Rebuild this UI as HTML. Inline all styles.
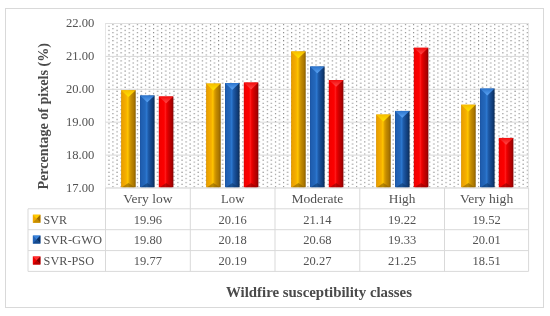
<!DOCTYPE html>
<html lang="en"><head><meta charset="utf-8"><title>Wildfire susceptibility classes</title>
<style>html,body{margin:0;padding:0;background:#fff;}body{width:550px;height:316px;overflow:hidden;}svg{display:block;}text{font-family:"Liberation Serif","DejaVu Serif",serif;}</style>
</head><body>
<svg width="550" height="316" viewBox="0 0 550 316">
<defs>
<pattern id="dots" x="107.900" y="25.500" width="8.124" height="4.05" patternUnits="userSpaceOnUse"><rect x="0.450" y="0.450" width="1.1" height="1.1" fill="#7c7c7c"/><rect x="4.512" y="2.475" width="1.1" height="1.1" fill="#7c7c7c"/></pattern>
<linearGradient id="g0" x1="0" y1="0" x2="1" y2="0"><stop offset="0" stop-color="#d89200"/><stop offset="0.08" stop-color="#eaa000"/><stop offset="0.35" stop-color="#f6b000"/><stop offset="0.47" stop-color="#ffc800"/><stop offset="0.54" stop-color="#e4a600"/><stop offset="0.68" stop-color="#c48c00"/><stop offset="0.88" stop-color="#aa7600"/><stop offset="1" stop-color="#865c00"/></linearGradient>
<linearGradient id="g1" x1="0" y1="0" x2="1" y2="0"><stop offset="0" stop-color="#1a52a0"/><stop offset="0.08" stop-color="#1f5eb0"/><stop offset="0.35" stop-color="#2468bc"/><stop offset="0.47" stop-color="#2e7ad2"/><stop offset="0.54" stop-color="#205fae"/><stop offset="0.68" stop-color="#184e96"/><stop offset="0.88" stop-color="#0f3a74"/><stop offset="1" stop-color="#0a2850"/></linearGradient>
<linearGradient id="g2" x1="0" y1="0" x2="1" y2="0"><stop offset="0" stop-color="#dc0000"/><stop offset="0.08" stop-color="#f40000"/><stop offset="0.35" stop-color="#fc0000"/><stop offset="0.47" stop-color="#ff1a1a"/><stop offset="0.54" stop-color="#ee0000"/><stop offset="0.68" stop-color="#d00000"/><stop offset="0.88" stop-color="#ac0000"/><stop offset="1" stop-color="#800000"/></linearGradient>
<linearGradient id="t0" x1="0" y1="0" x2="0" y2="1"><stop offset="0" stop-color="#f6bc00"/><stop offset="1" stop-color="#ffe400"/></linearGradient>
<linearGradient id="t1" x1="0" y1="0" x2="0" y2="1"><stop offset="0" stop-color="#2c74cc"/><stop offset="1" stop-color="#5ca4f4"/></linearGradient>
<linearGradient id="t2" x1="0" y1="0" x2="0" y2="1"><stop offset="0" stop-color="#f20c0c"/><stop offset="1" stop-color="#ff4848"/></linearGradient>
</defs>
<rect x="0" y="0" width="550" height="316" fill="#fff"/>
<rect x="5.5" y="8.5" width="538" height="299" fill="#fff" stroke="#d9d9d9" stroke-width="1"/>
<rect x="105.5" y="23.5" width="423.1" height="164.5" fill="url(#dots)"/>
<line x1="105.5" y1="188.0" x2="528.6" y2="188.0" stroke="#d9d9d9" stroke-width="1"/>
<line x1="105.5" y1="155.1" x2="528.6" y2="155.1" stroke="#d9d9d9" stroke-width="1"/>
<line x1="105.5" y1="122.2" x2="528.6" y2="122.2" stroke="#d9d9d9" stroke-width="1"/>
<line x1="105.5" y1="89.3" x2="528.6" y2="89.3" stroke="#d9d9d9" stroke-width="1"/>
<line x1="105.5" y1="56.4" x2="528.6" y2="56.4" stroke="#d9d9d9" stroke-width="1"/>
<line x1="105.5" y1="23.5" x2="528.6" y2="23.5" stroke="#d9d9d9" stroke-width="1"/>
<rect x="105.5" y="23.5" width="423.1" height="164.5" fill="none" stroke="#e2e2e2" stroke-width="0.8"/>
<text x="94.4" y="191.7" font-size="13" textLength="28.4" lengthAdjust="spacingAndGlyphs" text-anchor="end" fill="#525252">17.00</text>
<text x="94.4" y="158.8" font-size="13" textLength="28.4" lengthAdjust="spacingAndGlyphs" text-anchor="end" fill="#525252">18.00</text>
<text x="94.4" y="125.9" font-size="13" textLength="28.4" lengthAdjust="spacingAndGlyphs" text-anchor="end" fill="#525252">19.00</text>
<text x="94.4" y="93.0" font-size="13" textLength="28.4" lengthAdjust="spacingAndGlyphs" text-anchor="end" fill="#525252">20.00</text>
<text x="94.4" y="60.1" font-size="13" textLength="28.4" lengthAdjust="spacingAndGlyphs" text-anchor="end" fill="#525252">21.00</text>
<text x="94.4" y="27.2" font-size="13" textLength="28.4" lengthAdjust="spacingAndGlyphs" text-anchor="end" fill="#525252">22.00</text>
<rect x="121.1" y="90.2" width="14.6" height="97.0" fill="url(#g0)"/>
<polygon points="121.1,90.2 135.7,90.2 128.4,97.0" fill="url(#t0)"/>
<polygon points="122.1,187.2 134.7,187.2 128.4,183.0" fill="#8a6000" opacity="0.6"/>
<rect x="140.0" y="95.5" width="14.6" height="91.7" fill="url(#g1)"/>
<polygon points="140.0,95.5 154.6,95.5 147.3,102.3" fill="url(#t1)"/>
<polygon points="141.0,187.2 153.6,187.2 147.3,183.0" fill="#0e3a70" opacity="0.6"/>
<rect x="158.8" y="96.5" width="14.6" height="90.7" fill="url(#g2)"/>
<polygon points="158.8,96.5 173.4,96.5 166.1,103.3" fill="url(#t2)"/>
<polygon points="159.8,187.2 172.4,187.2 166.1,183.0" fill="#900000" opacity="0.6"/>
<rect x="206.1" y="83.6" width="14.6" height="103.6" fill="url(#g0)"/>
<polygon points="206.1,83.6 220.7,83.6 213.4,90.4" fill="url(#t0)"/>
<polygon points="207.1,187.2 219.7,187.2 213.4,183.0" fill="#8a6000" opacity="0.6"/>
<rect x="225.0" y="83.0" width="14.6" height="104.2" fill="url(#g1)"/>
<polygon points="225.0,83.0 239.6,83.0 232.3,89.8" fill="url(#t1)"/>
<polygon points="226.0,187.2 238.6,187.2 232.3,183.0" fill="#0e3a70" opacity="0.6"/>
<rect x="243.8" y="82.6" width="14.6" height="104.6" fill="url(#g2)"/>
<polygon points="243.8,82.6 258.4,82.6 251.1,89.4" fill="url(#t2)"/>
<polygon points="244.8,187.2 257.4,187.2 251.1,183.0" fill="#900000" opacity="0.6"/>
<rect x="291.1" y="51.4" width="14.6" height="135.8" fill="url(#g0)"/>
<polygon points="291.1,51.4 305.7,51.4 298.4,58.2" fill="url(#t0)"/>
<polygon points="292.1,187.2 304.7,187.2 298.4,183.0" fill="#8a6000" opacity="0.6"/>
<rect x="310.0" y="66.5" width="14.6" height="120.7" fill="url(#g1)"/>
<polygon points="310.0,66.5 324.6,66.5 317.3,73.3" fill="url(#t1)"/>
<polygon points="311.0,187.2 323.6,187.2 317.3,183.0" fill="#0e3a70" opacity="0.6"/>
<rect x="328.8" y="80.0" width="14.6" height="107.2" fill="url(#g2)"/>
<polygon points="328.8,80.0 343.4,80.0 336.1,86.8" fill="url(#t2)"/>
<polygon points="329.8,187.2 342.4,187.2 336.1,183.0" fill="#900000" opacity="0.6"/>
<rect x="376.1" y="114.6" width="14.6" height="72.6" fill="url(#g0)"/>
<polygon points="376.1,114.6 390.7,114.6 383.4,121.4" fill="url(#t0)"/>
<polygon points="377.1,187.2 389.7,187.2 383.4,183.0" fill="#8a6000" opacity="0.6"/>
<rect x="395.0" y="110.9" width="14.6" height="76.3" fill="url(#g1)"/>
<polygon points="395.0,110.9 409.6,110.9 402.3,117.7" fill="url(#t1)"/>
<polygon points="396.0,187.2 408.6,187.2 402.3,183.0" fill="#0e3a70" opacity="0.6"/>
<rect x="413.8" y="47.8" width="14.6" height="139.4" fill="url(#g2)"/>
<polygon points="413.8,47.8 428.4,47.8 421.1,54.6" fill="url(#t2)"/>
<polygon points="414.8,187.2 427.4,187.2 421.1,183.0" fill="#900000" opacity="0.6"/>
<rect x="461.1" y="104.7" width="14.6" height="82.5" fill="url(#g0)"/>
<polygon points="461.1,104.7 475.7,104.7 468.4,111.5" fill="url(#t0)"/>
<polygon points="462.1,187.2 474.7,187.2 468.4,183.0" fill="#8a6000" opacity="0.6"/>
<rect x="480.0" y="88.6" width="14.6" height="98.6" fill="url(#g1)"/>
<polygon points="480.0,88.6 494.6,88.6 487.3,95.4" fill="url(#t1)"/>
<polygon points="481.0,187.2 493.6,187.2 487.3,183.0" fill="#0e3a70" opacity="0.6"/>
<rect x="498.8" y="137.9" width="14.6" height="49.3" fill="url(#g2)"/>
<polygon points="498.8,137.9 513.4,137.9 506.1,144.7" fill="url(#t2)"/>
<polygon points="499.8,187.2 512.4,187.2 506.1,183.0" fill="#900000" opacity="0.6"/>
<line x1="28.0" y1="208.8" x2="528.6" y2="208.8" stroke="#d9d9d9" stroke-width="1"/>
<line x1="28.0" y1="229.7" x2="528.6" y2="229.7" stroke="#d9d9d9" stroke-width="1"/>
<line x1="28.0" y1="250.6" x2="528.6" y2="250.6" stroke="#d9d9d9" stroke-width="1"/>
<line x1="28.0" y1="271.4" x2="528.6" y2="271.4" stroke="#d9d9d9" stroke-width="1"/>
<line x1="28.0" y1="208.8" x2="28.0" y2="271.4" stroke="#d9d9d9" stroke-width="1"/>
<line x1="105.5" y1="188.0" x2="105.5" y2="271.4" stroke="#d9d9d9" stroke-width="1"/>
<line x1="190.3" y1="188.0" x2="190.3" y2="271.4" stroke="#d9d9d9" stroke-width="1"/>
<line x1="275.0" y1="188.0" x2="275.0" y2="271.4" stroke="#d9d9d9" stroke-width="1"/>
<line x1="359.8" y1="188.0" x2="359.8" y2="271.4" stroke="#d9d9d9" stroke-width="1"/>
<line x1="444.5" y1="188.0" x2="444.5" y2="271.4" stroke="#d9d9d9" stroke-width="1"/>
<line x1="528.6" y1="188.0" x2="528.6" y2="271.4" stroke="#d9d9d9" stroke-width="1"/>
<text x="147.9" y="202.7" font-size="13" textLength="49.2" lengthAdjust="spacingAndGlyphs" text-anchor="middle" fill="#525252">Very low</text>
<text x="232.7" y="202.7" font-size="13" textLength="23.4" lengthAdjust="spacingAndGlyphs" text-anchor="middle" fill="#525252">Low</text>
<text x="317.4" y="202.7" font-size="13" textLength="52" lengthAdjust="spacingAndGlyphs" text-anchor="middle" fill="#525252">Moderate</text>
<text x="402.1" y="202.7" font-size="13" textLength="26.6" lengthAdjust="spacingAndGlyphs" text-anchor="middle" fill="#525252">High</text>
<text x="486.6" y="202.7" font-size="13" textLength="53.2" lengthAdjust="spacingAndGlyphs" text-anchor="middle" fill="#525252">Very high</text>
<rect x="32.8" y="214.7" width="7.6" height="8.0" fill="#f0a800"/>
<polygon points="32.8,214.7 40.4,214.7 36.599999999999994,218.7" fill="#ffcc00"/>
<polygon points="40.4,214.7 40.4,222.7 36.599999999999994,218.7" fill="#9c6c00"/>
<polygon points="32.8,222.7 40.4,222.7 36.599999999999994,218.7" fill="#c48c00"/>
<text x="43.6" y="223.5" font-size="13" textLength="23.4" lengthAdjust="spacingAndGlyphs" fill="#525252">SVR</text>
<text x="147.9" y="223.5" font-size="13" textLength="28.2" lengthAdjust="spacingAndGlyphs" text-anchor="middle" fill="#525252">19.96</text>
<text x="232.7" y="223.5" font-size="13" textLength="28.2" lengthAdjust="spacingAndGlyphs" text-anchor="middle" fill="#525252">20.16</text>
<text x="317.4" y="223.5" font-size="13" textLength="28.2" lengthAdjust="spacingAndGlyphs" text-anchor="middle" fill="#525252">21.14</text>
<text x="402.1" y="223.5" font-size="13" textLength="28.2" lengthAdjust="spacingAndGlyphs" text-anchor="middle" fill="#525252">19.22</text>
<text x="486.6" y="223.5" font-size="13" textLength="28.2" lengthAdjust="spacingAndGlyphs" text-anchor="middle" fill="#525252">19.52</text>
<rect x="32.8" y="235.6" width="7.6" height="8.0" fill="#2464b8"/>
<polygon points="32.8,235.6 40.4,235.6 36.599999999999994,239.6" fill="#3a84dc"/>
<polygon points="40.4,235.6 40.4,243.6 36.599999999999994,239.6" fill="#0c3264"/>
<polygon points="32.8,243.6 40.4,243.6 36.599999999999994,239.6" fill="#164a8c"/>
<text x="43.6" y="244.4" font-size="13" textLength="58.4" lengthAdjust="spacingAndGlyphs" fill="#525252">SVR-GWO</text>
<text x="147.9" y="244.4" font-size="13" textLength="28.2" lengthAdjust="spacingAndGlyphs" text-anchor="middle" fill="#525252">19.80</text>
<text x="232.7" y="244.4" font-size="13" textLength="28.2" lengthAdjust="spacingAndGlyphs" text-anchor="middle" fill="#525252">20.18</text>
<text x="317.4" y="244.4" font-size="13" textLength="28.2" lengthAdjust="spacingAndGlyphs" text-anchor="middle" fill="#525252">20.68</text>
<text x="402.1" y="244.4" font-size="13" textLength="28.2" lengthAdjust="spacingAndGlyphs" text-anchor="middle" fill="#525252">19.33</text>
<text x="486.6" y="244.4" font-size="13" textLength="28.2" lengthAdjust="spacingAndGlyphs" text-anchor="middle" fill="#525252">20.01</text>
<rect x="32.8" y="256.5" width="7.6" height="8.0" fill="#f00000"/>
<polygon points="32.8,256.5 40.4,256.5 36.599999999999994,260.5" fill="#ff3030"/>
<polygon points="40.4,256.5 40.4,264.5 36.599999999999994,260.5" fill="#800000"/>
<polygon points="32.8,264.5 40.4,264.5 36.599999999999994,260.5" fill="#b80000"/>
<text x="43.6" y="265.3" font-size="13" textLength="50.4" lengthAdjust="spacingAndGlyphs" fill="#525252">SVR-PSO</text>
<text x="147.9" y="265.3" font-size="13" textLength="28.2" lengthAdjust="spacingAndGlyphs" text-anchor="middle" fill="#525252">19.77</text>
<text x="232.7" y="265.3" font-size="13" textLength="28.2" lengthAdjust="spacingAndGlyphs" text-anchor="middle" fill="#525252">20.19</text>
<text x="317.4" y="265.3" font-size="13" textLength="28.2" lengthAdjust="spacingAndGlyphs" text-anchor="middle" fill="#525252">20.27</text>
<text x="402.1" y="265.3" font-size="13" textLength="28.2" lengthAdjust="spacingAndGlyphs" text-anchor="middle" fill="#525252">21.25</text>
<text x="486.6" y="265.3" font-size="13" textLength="28.2" lengthAdjust="spacingAndGlyphs" text-anchor="middle" fill="#525252">18.51</text>
<text x="319" y="296.5" font-size="13.6" font-weight="bold" textLength="186" lengthAdjust="spacingAndGlyphs" text-anchor="middle" fill="#4a4a4a">Wildfire susceptibility classes</text>
<text transform="translate(47.5,116.3) rotate(-90)" font-size="13.6" font-weight="bold" textLength="146.5" lengthAdjust="spacingAndGlyphs" text-anchor="middle" fill="#4a4a4a">Percentage of pixels (%)</text>
</svg>
</body></html>
